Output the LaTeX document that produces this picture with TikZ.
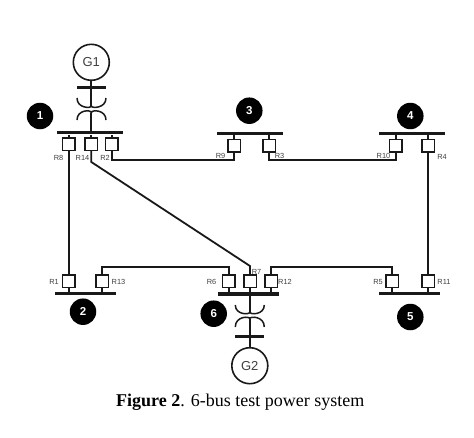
\documentclass[tikz,border=0pt]{standalone}
\usepackage{fontspec}
\setmainfont{Liberation Serif}
\newfontfamily\lblfont{Liberation Sans}
\begin{document}
\begin{tikzpicture}[x=1pt,y=-1pt,line cap=butt,
  wire/.style={line width=1.8pt,draw=black!90},
  relay/.style={draw=black!90,line width=1.5pt,fill=white,minimum size=12.5pt,inner sep=0pt,rectangle},
  busbar/.style={fill=black!90,rectangle,inner sep=0pt,minimum height=3.2pt},
  badge/.style={circle,fill=black,text=white,minimum size=26.5pt,inner sep=0pt,font=\lblfont\bfseries\fontsize{11.5}{13}\selectfont},
  gen/.style={circle,draw=black!90,line width=1.6pt,fill=white,minimum size=36pt,inner sep=0pt,font=\lblfont\fontsize{13}{15}\selectfont,text=black!75},
  tag/.style={inner sep=0pt,font=\lblfont\fontsize{7.4}{9}\selectfont,text=black!75},
  coil/.style={line width=1.5pt,draw=black!90}]
\useasboundingbox (0,0) rectangle (474,437);
% buses
\node[busbar,minimum width=66pt] (bus1) at (90.2,132.7) {};
\node[busbar,minimum width=66pt] (bus3) at (250.3,133.3) {};
\node[busbar,minimum width=66pt] (bus4) at (412.2,133.3) {};
\node[busbar,minimum width=61pt] (bus2) at (85,293.7) {};
\node[busbar,minimum width=61pt] (bus6) at (248.2,294) {};
\node[busbar,minimum width=61pt] (bus5) at (409.7,293.7) {};
% relays
\node[relay] (r8) at (68.9,144) {};
\node[relay] (r14) at (91.3,144) {};
\node[relay] (r2) at (111.7,144) {};
\node[relay] (r9) at (234,145.5) {};
\node[relay] (r3) at (269,145.5) {};
\node[relay] (r10) at (395.7,145.5) {};
\node[relay] (r4) at (428,145.5) {};
\node[relay] (r1) at (68.9,281.2) {};
\node[relay] (r13) at (102.3,281.2) {};
\node[relay] (r6) at (228.7,281.2) {};
\node[relay] (r7) at (250,281.2) {};
\node[relay] (r12) at (271,281.2) {};
\node[relay] (r5) at (392.3,281.2) {};
\node[relay] (r11) at (428,281.2) {};
% stubs
\foreach \r/\b in {r8/bus1,r14/bus1,r2/bus1,r9/bus3,r3/bus3,r10/bus4,r4/bus4}
  \draw[wire] (\r.north) -- (\r.north |- \b.south);
\foreach \r/\b in {r1/bus2,r13/bus2,r6/bus6,r7/bus6,r12/bus6,r5/bus5,r11/bus5}
  \draw[wire] (\r.south) -- (\r.south |- \b.north);
% lines
\coordinate (k14) at (91.3,162);
\coordinate (k7) at (250,266);
\draw[wire] (r8.south) -- (r1.north);
\draw[wire] (r4.south) -- (r11.north);
\draw[wire] (r2.south) |- (160,160.2) -| (r9.south);
\draw[wire] (r3.south) |- (330,160.3) -| (r10.south);
\draw[wire] (r13.north) |- (165,267) -| (r6.north);
\draw[wire] (r12.north) |- (330,267.3) -| (r5.north);
\draw[wire] (r14.south) -- (k14) -- (k7) -- (r7.north);
% generator 1
\node[gen] (g1) at (91.3,62.3) {G1};
\node[busbar,minimum width=29pt] (t1) at (91.3,87.3) {};
\coordinate (c1a) at (91.3,106);
\coordinate (c1b) at (91.3,112.7);
\draw[wire] (g1.south) -- (c1a);
\draw[wire] (c1b) -- (c1b |- bus1.north);
\draw[coil] (77,98) .. controls (77,108.5) and (91.3,108.5) .. (c1a) .. controls (91.3,108.5) and (106,108.5) .. (106,98);
\draw[coil] (77,120) .. controls (77,109.5) and (91.3,109.5) .. (c1b) .. controls (91.3,109.5) and (106,109.5) .. (106,120);
% generator 2
\node[gen] (g2) at (249.8,365.7) {G2};
\node[busbar,minimum width=29pt] (t2) at (249.8,336.7) {};
\coordinate (c2a) at (249.8,312);
\coordinate (c2b) at (249.8,318.7);
\draw[wire] (bus6.south -| c2a) -- (c2a);
\draw[wire] (c2b) -- (g2.north);
\draw[coil] (235.3,305) .. controls (235.3,315) and (249.8,315) .. (c2a) .. controls (249.8,315) and (264.3,315) .. (264.3,305);
\draw[coil] (235.3,327) .. controls (235.3,316) and (249.8,316) .. (c2b) .. controls (249.8,316) and (264.3,316) .. (264.3,327);
% badges
\node[badge] (n1) at (40,116) {1};
\node[badge] (n2) at (83,311.7) {2};
\node[badge] (n3) at (249.3,110.7) {3};
\node[badge] (n4) at (410.3,116) {4};
\node[badge] (n5) at (410.3,317) {5};
\node[badge] (n6) at (213.7,313.7) {6};
% relay labels
\node[tag] (l8) at (58.5,157.5) {R8};
\node[tag] (l14) at (82.5,157.5) {R14};
\node[tag] (l2) at (105,157.5) {R2};
\node[tag] (l9) at (220.5,155.5) {R9};
\node[tag] (l3) at (279.5,156) {R3};
\node[tag] (l10) at (383.5,155.5) {R10};
\node[tag] (l4) at (442,157) {R4};
\node[tag] (l1) at (54,281.5) {R1};
\node[tag] (l13) at (118.5,282) {R13};
\node[tag] (l6) at (211.5,281.5) {R6};
\node[tag] (l7) at (256.5,271.5) {R7};
\node[tag] (l12) at (285,281.5) {R12};
\node[tag] (l5) at (378,281.5) {R5};
\node[tag] (l11) at (444,281.5) {R11};
% caption
\node[inner sep=0pt,anchor=base west,font=\fontsize{18}{21}\selectfont] (cap) at (116,406) {\textbf{Figure 2}. 6-bus test power system};
\end{tikzpicture}
\end{document}
